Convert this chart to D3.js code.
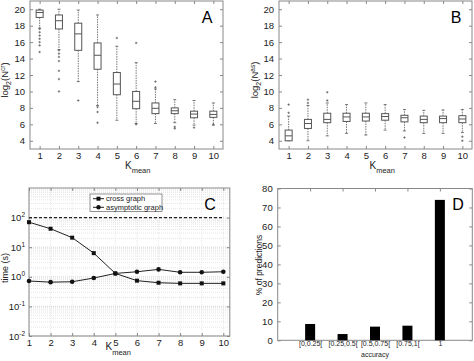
<!DOCTYPE html>
<html><head><meta charset="utf-8">
<script src="https://cdn.jsdelivr.net/npm/d3@7"></script>
<style>
body{margin:0;background:#fff;}
svg{display:block;font-family:"Liberation Sans",Arial,sans-serif;}
</style></head><body>
<svg id="c" width="474" height="361"></svg>
<script>
// ---------- DATA ----------
const kValues = [1,2,3,4,5,6,7,8,9,10];
const yTicksAB = [4,6,8,10,12,14,16,18,20];

// Panel A: cross graph, log2(N^cr)
const crossLo  = [17.7,15.1,11.2,8.3,6.5,6.1,6.1,6.2,5.9,5.9];
const crossQ1  = [19.0,17.6,15.0,12.7,9.6,7.9,7.3,7.3,6.8,6.85];
const crossMed = [19.6,18.6,17.0,14.4,10.9,8.8,7.95,7.65,7.25,7.2];
const crossQ3  = [19.9,19.3,18.3,15.9,12.3,10.0,8.6,8.0,7.6,7.6];
const crossHi  = [20.0,20.0,19.9,19.3,15.5,13.5,10.3,9.0,8.9,8.6];
const crossOut = [[17.6,17.2,16.8,16.4,16.0,15.6,14.8],[15.0,14.6,14.2,13.7,12.5,11.5,10.0],[8.9],[8.1,7.5,6.2],[16.5],[15.9,6.0],[11.2,10.5],[5.7,5.5],[5.6],[6.0]];

// Panel B: asymptotic graph, log2(N^as)
const asLo  = [4.0,4.0,4.6,4.9,4.7,5.3,5.2,4.9,4.9,5.0];
const asQ1  = [4.0,5.5,6.2,6.35,6.4,6.5,6.3,6.2,6.2,6.2];
const asMed = [4.6,6.1,6.6,6.9,6.9,6.95,6.8,6.6,6.7,6.65];
const asQ3  = [5.3,6.6,7.35,7.35,7.35,7.3,7.1,7.0,7.0,7.05];
const asHi  = [7.0,8.3,8.6,8.4,8.6,8.4,7.8,7.7,7.75,7.8];
const asOut = [[7.4,8.4],[8.6,9.0],[8.9,9.9],[],[],[],[4.4],[],[],[4.0,4.5]];

// Panel C: computation time (s)
const crossTime = [70,42,21,6.3,1.3,0.74,0.63,0.6,0.6,0.6];
const asymTime  = [0.72,0.66,0.68,0.91,1.3,1.48,1.78,1.42,1.42,1.48];
const timeLimit = 100;
const timeExponents = [-2,-1,0,1,2];

// Panel D: accuracy histogram
const accCats = ["[0,0.25[","[0.25,0.5[","[0.5,0.75[","[0.75,1[","1"];
const accVals = [8.6,3.3,7.2,7.7,74];
const accTicks = [0,10,20,30,40,50,60,70,80];

// ---------- DRAW ----------
const svg = d3.select("#c");
const frameCol = "#888", textCol = "#222", boxCol = "#555";

function frame(g, x0, x1, y0, y1){
  g.append("rect").attr("x",x0).attr("y",y1).attr("width",x1-x0).attr("height",y0-y1)
   .attr("fill","none").attr("stroke",frameCol).attr("stroke-width",1);
}
function styleAxis(a){
  a.select(".domain").remove();
  a.selectAll(".tick line").attr("stroke",frameCol);
  a.selectAll(".tick text").attr("fill",textCol);
}

function boxPanel(x0,x1,lo,q1,med,q3,hi,out,supText,letter,lx,kx){
  const x = d3.scaleLinear().domain([0.5,10.5]).range([x0,x1]);
  const y = d3.scaleLinear().domain([3,21]).range([149,1]);
  const g = svg.append("g");
  frame(g,x0,x1,149,1);
  const ax = g.append("g").attr("transform","translate(0,149)")
    .call(d3.axisBottom(x).tickValues(kValues).tickSize(-3).tickPadding(3).tickFormat(d3.format("d")));
  ax.selectAll("text").attr("font-size",9.5);
  styleAxis(ax);
  const ay = g.append("g").attr("transform",`translate(${x0},0)`)
    .call(d3.axisLeft(y).tickValues(yTicksAB).tickSize(-3).tickPadding(5));
  ay.selectAll("text").attr("font-size",9.5);
  styleAxis(ay);
  const at = g.append("g").attr("transform","translate(0,1)")
    .call(d3.axisTop(x).tickValues(kValues).tickSize(-3).tickFormat(""));
  styleAxis(at);
  const ar = g.append("g").attr("transform",`translate(${x1},0)`)
    .call(d3.axisRight(y).tickValues(yTicksAB).tickSize(-3).tickFormat(""));
  styleAxis(ar);

  const bw = 7, cw = 3;
  kValues.forEach((k,i)=>{
    const cx = x(k);
    g.append("line").attr("x1",cx).attr("x2",cx).attr("y1",y(q3[i])).attr("y2",y(hi[i]))
      .attr("stroke",boxCol).attr("stroke-width",0.8).attr("stroke-dasharray","1.5,1");
    g.append("line").attr("x1",cx).attr("x2",cx).attr("y1",y(q1[i])).attr("y2",y(lo[i]))
      .attr("stroke",boxCol).attr("stroke-width",0.8).attr("stroke-dasharray","1.5,1");
    [hi[i],lo[i]].forEach(v=>{
      g.append("line").attr("x1",cx-cw/2).attr("x2",cx+cw/2).attr("y1",y(v)).attr("y2",y(v))
        .attr("stroke",boxCol).attr("stroke-width",0.8);
    });
    g.append("rect").attr("x",cx-bw/2).attr("y",y(q3[i])).attr("width",bw)
      .attr("height",Math.max(0.5,y(q1[i])-y(q3[i]))).attr("fill","#fff")
      .attr("stroke",boxCol).attr("stroke-width",1);
    g.append("line").attr("x1",cx-bw/2).attr("x2",cx+bw/2).attr("y1",y(med[i])).attr("y2",y(med[i]))
      .attr("stroke",boxCol).attr("stroke-width",1);
    out[i].forEach(v=>{
      g.append("path").attr("d",`M${cx-1.2},${y(v)}h2.4M${cx},${y(v)-1.2}v2.4`)
        .attr("stroke",boxCol).attr("stroke-width",0.7);
    });
  });
  const yl = g.append("text").attr("transform",`translate(${lx},80) rotate(-90)`)
    .attr("text-anchor","middle").attr("font-size",9.5).attr("fill",textCol);
  yl.append("tspan").text("log");
  yl.append("tspan").attr("font-size",7).attr("dy",2.5).text("2");
  yl.append("tspan").attr("dy",-2.5).text("(N");
  yl.append("tspan").attr("font-size",6.5).attr("dy",-3.5).text(supText);
  yl.append("tspan").attr("dy",3.5).text(")");
  const xl = g.append("text").attr("x",kx).attr("y",169).attr("font-size",10).attr("fill",textCol);
  xl.append("tspan").text("K");
  xl.append("tspan").attr("font-size",7.5).attr("dy",4).text("mean");
  g.append("text").attr("x",x1-16).attr("y",23).attr("text-anchor","middle")
    .attr("font-size",16).attr("fill","#000").text(letter);
}

boxPanel(30,223,crossLo,crossQ1,crossMed,crossQ3,crossHi,crossOut,"cr","A",8,125);
boxPanel(279,472,asLo,asQ1,asMed,asQ3,asHi,asOut,"as","B",258,369.5);

// ---------- Panel C ----------
(function(){
  const x0=29, x1=229.8, yB=336, yT=188;
  const x = d3.scaleLinear().domain([1,10.3]).range([x0,x1]);
  const y = d3.scaleLog().domain([1e-2,1e3]).range([yB,yT]);
  const g = svg.append("g");
  const minor=[];
  for(let e=-2;e<3;e++) for(let m=2;m<10;m++) minor.push(m*Math.pow(10,e));
  g.selectAll(".mg").data(minor).enter().append("line")
    .attr("x1",x0).attr("x2",x1).attr("y1",d=>y(d)).attr("y2",d=>y(d))
    .attr("stroke","#d4d4d4").attr("stroke-width",0.6).attr("stroke-dasharray","1,1");
  g.selectAll(".Mg").data(timeExponents).enter().append("line")
    .attr("x1",x0).attr("x2",x1).attr("y1",d=>y(Math.pow(10,d))).attr("y2",d=>y(Math.pow(10,d)))
    .attr("stroke","#c4c4c4").attr("stroke-width",0.7).attr("stroke-dasharray","1,1");
  g.selectAll(".vg").data(kValues).enter().append("line")
    .attr("x1",d=>x(d)).attr("x2",d=>x(d)).attr("y1",yT).attr("y2",yB)
    .attr("stroke","#dcdcdc").attr("stroke-width",0.6).attr("stroke-dasharray","1,1");
  frame(g,x0,x1,yB,yT);
  const ax = g.append("g").attr("transform",`translate(0,${yB})`)
    .call(d3.axisBottom(x).tickValues(kValues).tickSize(-3).tickPadding(3).tickFormat(d3.format("d")));
  ax.selectAll("text").attr("font-size",9.5);
  styleAxis(ax);
  const at = g.append("g").attr("transform",`translate(0,${yT})`)
    .call(d3.axisTop(x).tickValues(kValues).tickSize(-3).tickFormat(""));
  styleAxis(at);
  const tv = timeExponents.map(e=>Math.pow(10,e));
  const ay = g.append("g").attr("transform",`translate(${x0},0)`)
    .call(d3.axisLeft(y).tickValues(tv).tickSize(-3).tickPadding(4).tickFormat(""));
  styleAxis(ay);
  const ar = g.append("g").attr("transform",`translate(${x1},0)`)
    .call(d3.axisRight(y).tickValues(tv).tickSize(-3).tickFormat(""));
  styleAxis(ar);
  timeExponents.forEach(e=>{
    const t = g.append("text").attr("x",x0-4).attr("y",y(Math.pow(10,e))+3.5)
      .attr("text-anchor","end").attr("font-size",9.5).attr("fill",textCol);
    t.append("tspan").text("10");
    t.append("tspan").attr("font-size",6.5).attr("dy",-4).text(String(e));
  });
  g.append("line").attr("x1",x(1)).attr("x2",x(10)).attr("y1",y(timeLimit)).attr("y2",y(timeLimit))
    .attr("stroke","#222").attr("stroke-width",1.2).attr("stroke-dasharray","3,2");
  const line = d3.line().x((d,i)=>x(kValues[i])).y(d=>y(d));
  g.append("path").attr("d",line(crossTime)).attr("fill","none").attr("stroke","#222").attr("stroke-width",1);
  g.append("path").attr("d",line(asymTime)).attr("fill","none").attr("stroke","#222").attr("stroke-width",1);
  g.selectAll(".sq").data(crossTime).enter().append("rect")
    .attr("x",(d,i)=>x(kValues[i])-2).attr("y",d=>y(d)-2).attr("width",4).attr("height",4).attr("fill","#111");
  g.selectAll(".ci").data(asymTime).enter().append("circle")
    .attr("cx",(d,i)=>x(kValues[i])).attr("cy",d=>y(d)).attr("r",2.3).attr("fill","#111");
  g.append("rect").attr("x",90).attr("y",194).attr("width",72).attr("height",17.5)
    .attr("fill","#fff").attr("stroke","#777").attr("stroke-width",0.8);
  [["cross graph","sq",198.7],["asymptotic graph","ci",207.3]].forEach(([t,m,yy])=>{
    g.append("line").attr("x1",93).attr("x2",104).attr("y1",yy).attr("y2",yy).attr("stroke","#222");
    if(m==="sq") g.append("rect").attr("x",96.5).attr("y",yy-2).attr("width",4).attr("height",4).attr("fill","#111");
    else g.append("circle").attr("cx",98.5).attr("cy",yy).attr("r",2.2).attr("fill","#111");
    g.append("text").attr("x",106).attr("y",yy+2.6).attr("font-size",7.5).attr("fill",textCol).text(t);
  });
  g.append("text").attr("transform",`translate(8,268) rotate(-90)`).attr("text-anchor","middle")
    .attr("font-size",9).attr("fill",textCol).text("time (s)");
  const xl = g.append("text").attr("x",105.5).attr("y",349.5).attr("font-size",10).attr("fill",textCol);
  xl.append("tspan").text("K");
  xl.append("tspan").attr("font-size",7.5).attr("dy",5.5).text("mean");
  g.append("text").attr("x",210).attr("y",209.5).attr("text-anchor","middle")
    .attr("font-size",16).attr("fill","#000").text("C");
})();

// ---------- Panel D ----------
(function(){
  const x0=277.7, x1=472.3, yB=340.3, yT=188.5;
  const x = d3.scaleLinear().domain([0,6]).range([x0,x1]);
  const y = d3.scaleLinear().domain([0,80]).range([yB,yT]);
  const g = svg.append("g");
  frame(g,x0,x1,yB,yT);
  const pos = accCats.map((c,i)=>i+1);
  const ax = g.append("g").attr("transform",`translate(0,${yB})`)
    .call(d3.axisBottom(x).tickValues(pos).tickSize(-3).tickPadding(1).tickFormat((d,i)=>accCats[i]));
  ax.selectAll("text").attr("font-size",7);
  styleAxis(ax);
  const at = g.append("g").attr("transform",`translate(0,${yT})`)
    .call(d3.axisTop(x).tickValues(pos).tickSize(-3).tickFormat(""));
  styleAxis(at);
  const ay = g.append("g").attr("transform",`translate(${x0},0)`)
    .call(d3.axisLeft(y).tickValues(accTicks).tickSize(-3).tickPadding(5));
  ay.selectAll("text").attr("font-size",9.5);
  styleAxis(ay);
  const ar = g.append("g").attr("transform",`translate(${x1},0)`)
    .call(d3.axisRight(y).tickValues(accTicks).tickSize(-3).tickFormat(""));
  styleAxis(ar);
  g.selectAll(".bar").data(accVals).enter().append("rect")
    .attr("x",(d,i)=>x(pos[i])-5).attr("y",d=>y(d)).attr("width",10)
    .attr("height",d=>yB-y(d)).attr("fill","#000");
  g.append("text").attr("transform",`translate(262,265) rotate(-90)`).attr("text-anchor","middle")
    .attr("font-size",8.5).attr("fill",textCol).text("% of predictions");
  g.append("text").attr("x",375).attr("y",357).attr("text-anchor","middle")
    .attr("font-size",7).attr("fill",textCol).text("accuracy");
  g.append("text").attr("x",458).attr("y",209.5).attr("text-anchor","middle")
    .attr("font-size",16).attr("fill","#000").text("D");
})();
</script>
</body></html>
